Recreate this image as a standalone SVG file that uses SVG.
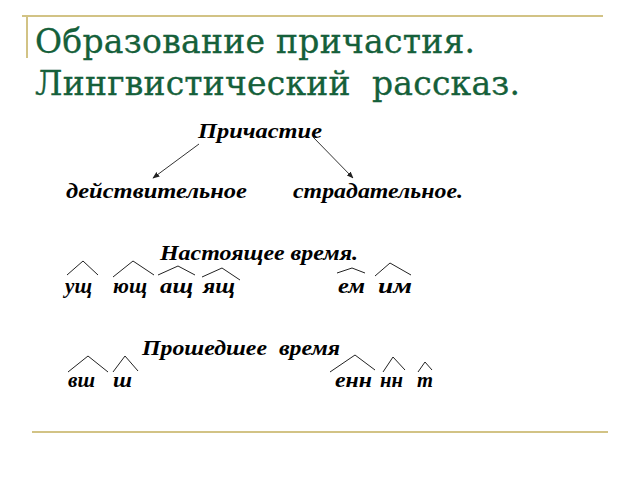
<svg xmlns="http://www.w3.org/2000/svg" width="640" height="480" viewBox="0 0 640 480">
<defs>
<style>
.title{font-family:"DejaVu Serif","Liberation Serif",serif;font-size:33px;fill:#15603a;stroke:#15603a;stroke-width:0.3}
.lbl{font-family:"Liberation Serif","Times New Roman",serif;font-weight:bold;font-style:italic;font-size:21px;fill:#000}
.frame{stroke:#d2c385;stroke-width:2;fill:none}
.caret{stroke:#222;stroke-width:1;fill:none}
.arr{stroke:#333;stroke-width:1;fill:none;marker-end:url(#ah)}
</style>
<marker id="ah" viewBox="0 0 10 10" refX="9" refY="5" markerWidth="7" markerHeight="7" orient="auto" markerUnits="userSpaceOnUse">
<path d="M0,1 L10,5 L0,9 Z" fill="#222"/>
</marker>
</defs>
<rect width="640" height="480" fill="#fff"/>
<g id="frame">
<line class="frame" x1="22" y1="16" x2="603" y2="16"/>
<line class="frame" x1="27" y1="16" x2="27" y2="58"/>
<line class="frame" x1="32" y1="432" x2="608" y2="432"/>
</g>
<g id="title">
<text class="title" x="35" y="53" textLength="440">Образование причастия.</text>
<text class="title" x="35" y="95" textLength="485" xml:space="preserve">Лингвистический  рассказ.</text>
</g>
<g id="n-prichastie"><text class="lbl" x="198" y="138" textLength="124" lengthAdjust="spacingAndGlyphs">Причастие</text></g>
<g id="n-deystv"><text class="lbl" x="66" y="198" textLength="181" lengthAdjust="spacingAndGlyphs">действительное</text></g>
<g id="n-strad"><text class="lbl" x="293" y="198" textLength="170" lengthAdjust="spacingAndGlyphs">страдательное.</text></g>
<g id="n-nast"><text class="lbl" x="160" y="260" textLength="198" lengthAdjust="spacingAndGlyphs">Настоящее время.</text></g>
<g id="n-proshed"><text class="lbl" x="142" y="355" textLength="198" lengthAdjust="spacingAndGlyphs" xml:space="preserve">Прошедшее  время</text></g>
<g id="suffixes-present">
<text class="lbl" x="65" y="293" textLength="27" lengthAdjust="spacingAndGlyphs">ущ</text>
<text class="lbl" x="113" y="293" textLength="34" lengthAdjust="spacingAndGlyphs">ющ</text>
<text class="lbl" x="160" y="293" textLength="33" lengthAdjust="spacingAndGlyphs">ащ</text>
<text class="lbl" x="203" y="293" textLength="32" lengthAdjust="spacingAndGlyphs">ящ</text>
<text class="lbl" x="338" y="293" textLength="27" lengthAdjust="spacingAndGlyphs">ем</text>
<text class="lbl" x="378" y="293" textLength="34" lengthAdjust="spacingAndGlyphs">им</text>
<polyline class="caret" points="67,275 83,261 98,275"/>
<polyline class="caret" points="113,277 133,261 154,275"/>
<polyline class="caret" points="158,275 178,266 195,275"/>
<polyline class="caret" points="202,277 222,268 240,280"/>
<polyline class="caret" points="337,273 352,268 365,273"/>
<polyline class="caret" points="375,276 390,263 411,275"/>
</g>
<g id="suffixes-past">
<text class="lbl" x="68" y="387" textLength="27" lengthAdjust="spacingAndGlyphs">вш</text>
<text class="lbl" x="113" y="387" textLength="19" lengthAdjust="spacingAndGlyphs">ш</text>
<text class="lbl" x="335" y="387" textLength="37" lengthAdjust="spacingAndGlyphs">енн</text>
<text class="lbl" x="380" y="387" textLength="23" lengthAdjust="spacingAndGlyphs">нн</text>
<text class="lbl" x="417" y="387" textLength="16" lengthAdjust="spacingAndGlyphs">т</text>
<polyline class="caret" points="68,372 88,356 108,372"/>
<polyline class="caret" points="113,372 125,356 138,371"/>
<polyline class="caret" points="330,372 355,355 375,370"/>
<polyline class="caret" points="383,372 393,357 405,370"/>
<polyline class="caret" points="418,372 425,362 432,370"/>
</g>
<g id="connectors">
<line class="arr" x1="199" y1="144" x2="153" y2="178"/>
<line class="arr" x1="313" y1="137" x2="353" y2="178"/>
</g>
</svg>
